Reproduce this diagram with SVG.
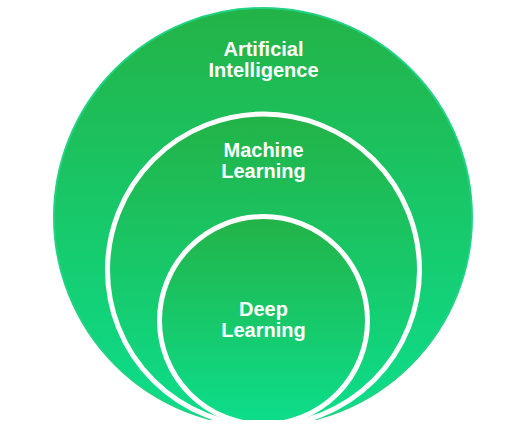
<svg xmlns="http://www.w3.org/2000/svg" width="522" height="434" viewBox="0 0 522 434">
  <defs>
    <linearGradient id="g" x1="0" y1="0" x2="0" y2="1">
      <stop offset="0" stop-color="#23b347"/>
      <stop offset="1" stop-color="#0cde8c"/>
    </linearGradient>
    <clipPath id="clip">
      <rect x="0" y="0" width="522" height="420"/>
    </clipPath>
  </defs>
  <style>
    .lbl { font-family: "Liberation Sans", Arial, sans-serif; font-weight: bold; font-size: 20px; fill: #ffffff; text-anchor: middle; }
    .c { fill: url(#g); }
    .outer { stroke: #22d283; stroke-width: 2; }
    .inner { stroke: #ffffff; stroke-width: 5; }
  </style>
  <rect width="522" height="434" fill="#ffffff"/>
  <g clip-path="url(#clip)">
    <g id="ai">
      <circle class="c outer" cx="263" cy="217" r="209"/>
      <text class="lbl" x="263.5" y="56">Artificial</text>
      <text class="lbl" x="263.5" y="77">Intelligence</text>
    </g>
    <g id="ml">
      <circle class="c inner" cx="263.5" cy="270" r="156"/>
      <text class="lbl" x="263.5" y="157">Machine</text>
      <text class="lbl" x="263.5" y="178">Learning</text>
    </g>
    <g id="dl">
      <circle class="c inner" cx="263.5" cy="320.5" r="104"/>
      <text class="lbl" x="263.5" y="316">Deep</text>
      <text class="lbl" x="263.5" y="337">Learning</text>
    </g>
  </g>
  <g id="connectors"></g>
</svg>
